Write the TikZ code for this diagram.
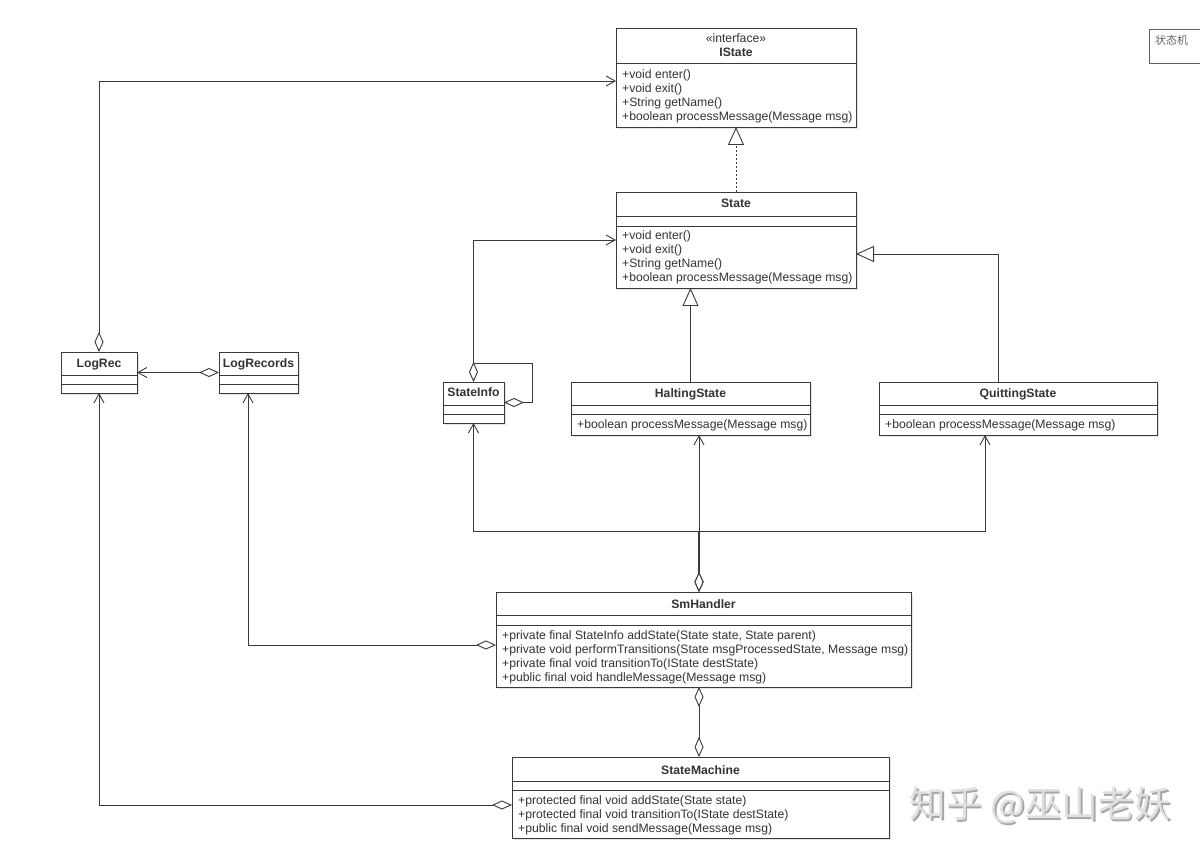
\documentclass[tikz,border=0pt]{standalone}
\usepackage{fontspec}
\setmainfont{Liberation Sans}
\newfontfamily\cjkfont{Noto Sans CJK SC}
\usetikzlibrary{arrows.meta,shadows}
\definecolor{ln}{HTML}{3A3A3A}
\definecolor{tx}{HTML}{333333}
\begin{document}
\begin{tikzpicture}[x=1pt,y=-1pt,font=\fontsize{12.2}{14}\selectfont,
  cls/.style={draw=ln,line width=0.9pt,fill=white,inner sep=0pt,outer sep=0pt,anchor=north west,
    drop shadow={shadow xshift=2pt,shadow yshift=-2pt,fill=black,opacity=0.10}},
  div/.style={draw=ln,line width=0.9pt},
  mt/.style={anchor=base west,inner sep=0pt,text=tx},
  tt/.style={anchor=base,inner sep=0pt,text=tx,font=\fontsize{12.2}{14}\selectfont\bfseries},
  st/.style={anchor=base,inner sep=0pt,text=tx},
  con/.style={draw=ln,line width=0.9pt},
  agg/.style={con,{Diamond[fill=white,length=20pt,width=9pt]}-},
  aggto/.style={con,{Diamond[fill=white,length=20pt,width=9pt]}-{Straight Barb[length=9pt,width=10pt]}},
  aggagg/.style={con,{Diamond[fill=white,length=20pt,width=9pt]}-{Diamond[fill=white,length=20pt,width=9pt]}},
  gen/.style={con,-{Triangle[fill=white,length=18pt,width=16pt]}},
  real/.style={gen,dash pattern=on 2pt off 2pt}]
\useasboundingbox (0,0) rectangle (1200,858);
\fill[white] (0,0) rectangle (1200,858);

% IState
\node[cls,minimum width=240pt,minimum height=99pt] (istate) at (616,28) {};
\draw[div] (616,63) -- (856,63);
\node[st] at (736,43) {«interface»};
\node[tt] at (736,57) {IState};
\node[mt] at (622,79) {+void enter()};
\node[mt] at (622,93) {+void exit()};
\node[mt] at (622,107) {+String getName()};
\node[mt] at (622,121) {+boolean processMessage(Message msg)};

% State
\node[cls,minimum width=240pt,minimum height=96pt] (state) at (616,192) {};
\draw[div] (616,216) -- (856,216);
\draw[div] (616,226) -- (856,226);
\node[tt] at (736,208) {State};
\node[mt] at (622,240) {+void enter()};
\node[mt] at (622,254) {+void exit()};
\node[mt] at (622,268) {+String getName()};
\node[mt] at (622,282) {+boolean processMessage(Message msg)};

% StateInfo
\node[cls,minimum width=61pt,minimum height=41pt] (stateinfo) at (443,382) {};
\draw[div] (443,405) -- (504,405);
\draw[div] (443,414) -- (504,414);
\node[tt] at (473.5,397) {StateInfo};

% LogRec
\node[cls,minimum width=76pt,minimum height=41pt] (logrec) at (61,352) {};
\draw[div] (61,375) -- (137,375);
\draw[div] (61,384) -- (137,384);
\node[tt] at (99,368) {LogRec};

% LogRecords
\node[cls,minimum width=79pt,minimum height=41pt] (logrecords) at (219,352) {};
\draw[div] (219,375) -- (298,375);
\draw[div] (219,384) -- (298,384);
\node[tt] at (258.5,368) {LogRecords};

% HaltingState
\node[cls,minimum width=239pt,minimum height=53pt] (halting) at (571,382) {};
\draw[div] (571,405) -- (810,405);
\draw[div] (571,414) -- (810,414);
\node[tt] at (690.5,398) {HaltingState};
\node[mt] at (577,429) {+boolean processMessage(Message msg)};

% QuittingState
\node[cls,minimum width=278pt,minimum height=53pt] (quitting) at (879,382) {};
\draw[div] (879,405) -- (1157,405);
\draw[div] (879,414) -- (1157,414);
\node[tt] at (1018,398) {QuittingState};
\node[mt] at (885,429) {+boolean processMessage(Message msg)};

% SmHandler
\node[cls,minimum width=415pt,minimum height=95pt] (smhandler) at (496,592) {};
\draw[div] (496,615) -- (911,615);
\draw[div] (496,625) -- (911,625);
\node[tt] at (703.5,608) {SmHandler};
\node[mt] at (502,639) {+private final StateInfo addState(State state, State parent)};
\node[mt] at (502,653) {+private void performTransitions(State msgProcessedState, Message msg)};
\node[mt] at (502,667) {+private final void transitionTo(IState destState)};
\node[mt] at (502,681) {+public final void handleMessage(Message msg)};

% StateMachine
\node[cls,minimum width=377pt,minimum height=81pt] (statemachine) at (512,757) {};
\draw[div] (512,781) -- (889,781);
\draw[div] (512,790) -- (889,790);
\node[tt] at (700.5,774) {StateMachine};
\node[mt] at (518,804) {+protected final void addState(State state)};
\node[mt] at (518,818) {+protected final void transitionTo(IState destState)};
\node[mt] at (518,832) {+public final void sendMessage(Message msg)};

% legend box top right
\node[draw=ln!80,line width=0.8pt,inner sep=0pt,outer sep=0pt,anchor=north west,minimum width=60pt,minimum height=34pt] (legend) at (1149,29) {};
\node[anchor=base west,inner sep=0pt,text=black!60,font=\cjkfont\fontsize{11}{13}\selectfont] (legendtext) at (1155,45) {状态机};

% connectors
\coordinate (smtop) at ([xshift=-4.5pt]smhandler.north);
\coordinate (smbot) at ([xshift=-4.5pt]smhandler.south);
\draw[real] (state.north) -- (istate.south);
\draw[gen] (halting.north) -- (halting.north |- state.south);
\draw[gen] ([xshift=-20pt]quitting.north) |- ([yshift=-14pt]state.east);
\draw[aggto] (logrec.north) |- ([yshift=-3.5pt]istate.west);
\draw[aggto] (logrecords.west) -- (logrec.east);
\draw[aggto] (stateinfo.north) |- (state.west);
\draw[agg] (stateinfo.east) -- ++(28,0) |- ([yshift=19pt]stateinfo.north);
\draw[con,line width=2.2pt] ([yshift=18pt]smtop) -- ++(0,-42);
\draw[aggto] (smtop) -- ++(0,-61) -| (stateinfo.south);
\draw[aggto] (smtop) -- (smtop |- halting.south);
\draw[aggto] (smtop) -- ++(0,-61) -| ([xshift=-33pt]quitting.south);
\draw[aggto] ([yshift=-5.5pt]smhandler.west) -| ([xshift=-10.5pt]logrecords.south);
\draw[aggagg] (smbot) -- (smbot |- statemachine.north);
\draw[aggto] ([yshift=-7.5pt]statemachine.west) -| (logrec.south);

% watermark
\node[anchor=base west,inner sep=0pt,text=black!35,font=\cjkfont\fontsize{36.5}{40}\selectfont] (wmshadow) at (911,819) {知乎 @巫山老妖};
\node[anchor=base west,inner sep=0pt,text=black!12,font=\cjkfont\fontsize{36.5}{40}\selectfont] (wm) at (909.5,817.5) {知乎 @巫山老妖};
\end{tikzpicture}
\end{document}
